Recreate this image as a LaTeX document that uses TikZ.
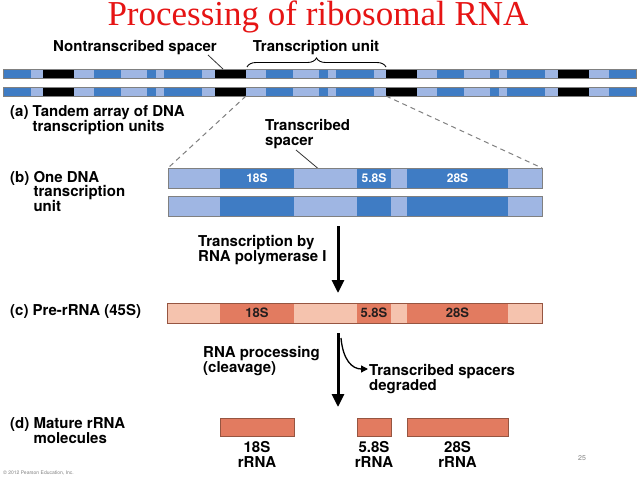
\documentclass[tikz,border=0pt]{standalone}
\usepackage{fontspec}
\setmainfont{TeX Gyre Heros}
\newfontfamily\titlefont{Liberation Serif}
\usetikzlibrary{arrows.meta,decorations.pathreplacing}
\definecolor{dblue}{RGB}{63,124,196}
\definecolor{lblue}{RGB}{159,182,227}
\definecolor{dsal}{RGB}{226,123,96}
\definecolor{lsal}{RGB}{245,195,174}
\definecolor{titlered}{RGB}{230,20,20}
\definecolor{salline}{RGB}{150,85,65}
\definecolor{txtdark}{RGB}{35,30,30}
\newcommand\dnarow[2]{%
  \begin{scope}
    \clip (3,#1) rectangle (636,#2);
    \fill[lblue] (3,#1) rectangle (636,#2);
    \foreach \B in {-128.5,43,214.5,386,558,729.5}{
      \fill[black] (\B,#1) rectangle ({\B+31},#2);
      \fill[dblue] ({\B+51},#1) rectangle ({\B+78},#2);
      \fill[dblue] ({\B+104},#1) rectangle ({\B+113},#2);
      \fill[dblue] ({\B+121},#1) rectangle ({\B+159},#2);
    }
  \end{scope}
  \draw[gray, line width=0.5pt] (3,#1) rectangle (636,#2);
}
\begin{document}
\begin{tikzpicture}[x=1pt,y=-1pt,
  lbl/.style={font=\fontsize{15}{14.5}\selectfont\bfseries, align=left, inner sep=0pt, anchor=base west},
  clbl/.style={font=\fontsize{15}{14.5}\selectfont\bfseries, align=center, inner sep=0pt, anchor=base},
  bseg/.style={fill=dblue, inner sep=0pt, minimum height=20pt, text=white, font=\fontsize{12}{12}\selectfont\bfseries},
  cseg/.style={fill=dsal, inner sep=0pt, minimum height=20pt, text=txtdark, font=\fontsize{13}{13}\selectfont\bfseries},
  dseg/.style={fill=dsal, draw=salline, line width=0.5pt, inner sep=0pt, minimum height=18pt},
  bigarrow/.style={line width=3pt, -{Triangle[length=13pt,width=12pt]}},
  leader/.style={draw=black!80, line width=0.8pt},
  dashlink/.style={draw=gray, line width=1pt, dash pattern=on 5pt off 4pt}]
\path[use as bounding box, fill=white] (0,0) rectangle (638,479);

% title
\node[font=\titlefont\fontsize{35}{35}\selectfont, text=titlered, anchor=base, inner sep=0pt] (title) at (318,26) {Processing of ribosomal RNA};

% (a) tandem array
\dnarow{69}{78}
\dnarow{87}{96}
\node[clbl] (nts) at (135,51) {Nontranscribed spacer};
\node[clbl] (tu) at (316,51) {Transcription unit};
\coordinate (ntsend) at (223,69);
\draw[leader] (208,55) -- (ntsend);
\draw[decorate, decoration={brace, amplitude=9pt}, line width=0.9pt] (247,67) -- (386,67);
\node[lbl] (la) at (10,131) {(a) Tandem array of DNA\\\phantom{(a) }transcription units};

% dashed links
\coordinate (unitL) at (246,96);
\coordinate (unitR) at (386,96);
\coordinate (bL) at (168,168);
\coordinate (bR) at (542,168);
\draw[dashlink] (unitL) -- (bL);
\draw[dashlink] (unitR) -- (bR);

% (b) one transcription unit
\node[lbl] (ts) at (265,145) {Transcribed\\spacer};
\coordinate (tsend) at (327,176);
\draw[leader] (296,150) -- (tsend);
\fill[lblue] (168,168) rectangle (542,188);
\node[bseg, minimum width=74pt] (b18) at (257,178) {18S};
\node[bseg, minimum width=34pt] (b58) at (374,178) {5.8S};
\node[bseg, minimum width=101pt] (b28) at (457.5,178) {28S};
\draw[gray, line width=0.5pt] (168,168) rectangle (542,188);
\fill[lblue] (168,196) rectangle (542,216);
\node[bseg, minimum width=74pt] (c18) at (257,206) {};
\node[bseg, minimum width=34pt] (c58) at (374,206) {};
\node[bseg, minimum width=101pt] (c28) at (457.5,206) {};
\draw[gray, line width=0.5pt] (168,196) rectangle (542,216);
\node[lbl] (lb) at (10,211) {(b) One DNA\\\phantom{(b) }transcription\\\phantom{(b) }unit};

% arrow 1
\coordinate (a1s) at (338,226);
\coordinate (a1e) at (338,293);
\draw[bigarrow] (a1s) -- (a1e);
\node[lbl] (tr) at (198,261) {Transcription by\\RNA polymerase I};

% (c) pre-rRNA
\fill[lsal] (167,303) rectangle (542,323);
\node[cseg, minimum width=74pt] (p18) at (257,313) {18S};
\node[cseg, minimum width=34pt] (p58) at (374,313) {5.8S};
\node[cseg, minimum width=101pt] (p28) at (457.5,313) {28S};
\draw[salline, line width=0.5pt] (167,303) rectangle (542,323);
\node[lbl] (lc) at (10,315) {(c) Pre-rRNA (45S)};

% arrow 2
\coordinate (a2s) at (338,333);
\coordinate (a2e) at (338,407);
\draw[bigarrow] (a2s) -- (a2e);
\node[lbl] (rp) at (203,372) {RNA processing\\(cleavage)};
\coordinate (cvs) at (341,338);
\coordinate (cve) at (368,369);
\draw[line width=1.3pt, -{Triangle[length=7pt,width=7pt]}] (cvs) .. controls (343,360) and (352,369) .. (cve);
\node[lbl] (deg) at (369,390) {Transcribed spacers\\degraded};

% (d) mature rRNA
\node[dseg, minimum width=74pt] (m18) at (257,427) {};
\node[dseg, minimum width=34pt] (m58) at (374,427) {};
\node[dseg, minimum width=101pt] (m28) at (457.5,427) {};
\node[clbl] (t18) at (257,467) {18S\\rRNA};
\node[clbl] (t58) at (374,467) {5.8S\\rRNA};
\node[clbl] (t28) at (457.5,467) {28S\\rRNA};
\node[lbl] (ld) at (10,443) {(d) Mature rRNA\\\phantom{(d) }molecules};

% footers
\node[font=\fontsize{7}{7}\selectfont, text=gray, anchor=base west, inner sep=0pt] (pg) at (578,460) {25};
\node[font=\fontsize{5}{5}\selectfont, text=gray, anchor=base west, inner sep=0pt] (copy) at (3,474) {\copyright{} 2012 Pearson Education, Inc.};
\end{tikzpicture}
\end{document}
